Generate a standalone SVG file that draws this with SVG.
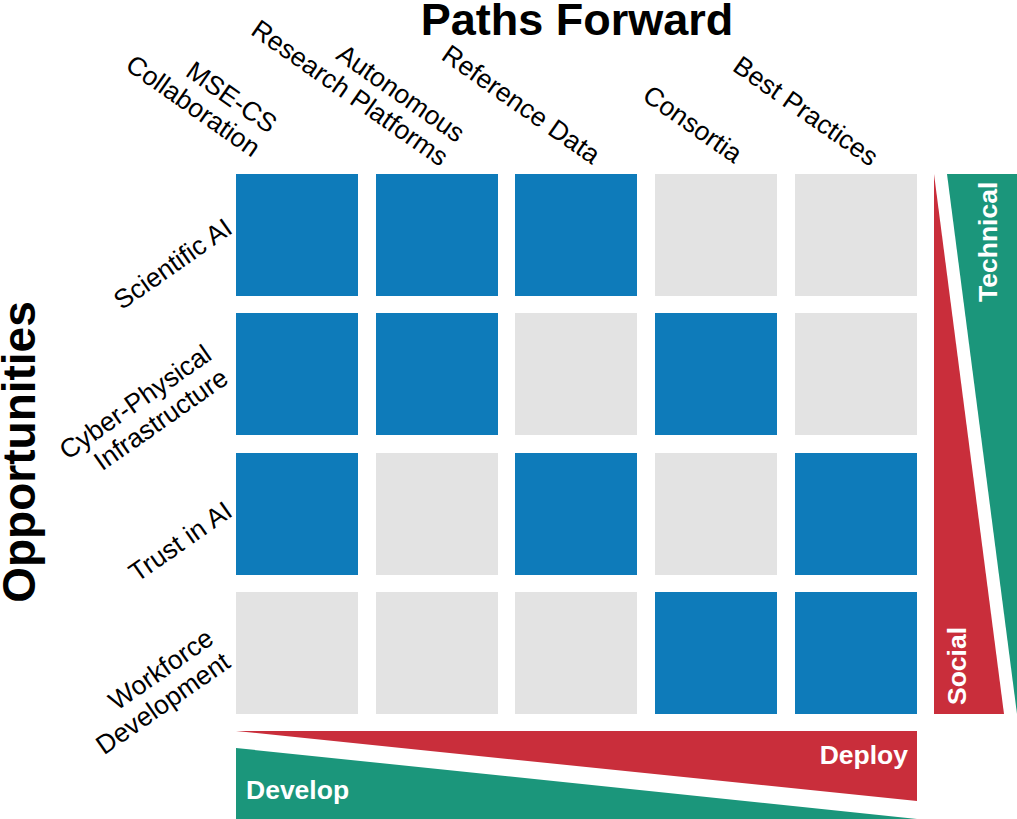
<svg xmlns="http://www.w3.org/2000/svg" width="1017" height="819" viewBox="0 0 1017 819">
<style>
.b{fill:#0e7bba}.g{fill:#e3e3e3}
.l{font-family:"Liberation Sans",Arial,sans-serif;font-size:26.5px;fill:#000;text-anchor:end}
.w{font-family:"Liberation Sans",Arial,sans-serif;font-size:26.5px;font-weight:bold;fill:#fff}
.t{font-family:"Liberation Sans",Arial,sans-serif;font-weight:bold;fill:#000;text-anchor:middle}
</style>
<rect width="1017" height="819" fill="#fff"/>
<text class="t" x="577" y="35" font-size="45">Paths Forward</text>
<text class="t" transform="translate(35,452) rotate(-90)" font-size="46">Opportunities</text>
<g id="cols">
<text class="l" transform="translate(252,158) rotate(35)"><tspan x="0" y="-29">MSE-CS</tspan><tspan x="0" y="0">Collaboration</tspan></text>
<text class="l" transform="translate(440,167) rotate(35)"><tspan x="0" y="-29">Autonomous</tspan><tspan x="0" y="0">Research Platforms</tspan></text>
<text class="l" transform="translate(592,165) rotate(35)">Reference Data</text>
<text class="l" transform="translate(734,164) rotate(35)">Consortia</text>
<text class="l" transform="translate(870,167) rotate(35)">Best Practices</text>
</g>
<g id="rows">
<text class="l" transform="translate(234,232) rotate(-35)">Scientific AI</text>
<text class="l" transform="translate(230,382) rotate(-35)"><tspan x="0" y="-29">Cyber-Physical</tspan><tspan x="0" y="0">Infrastructure</tspan></text>
<text class="l" transform="translate(234,515) rotate(-35)">Trust in AI</text>
<text class="l" transform="translate(232,666) rotate(-35)"><tspan x="0" y="-29">Workforce</tspan><tspan x="0" y="0">Development</tspan></text>
</g>
<g id="grid">
<rect class="b" x="236" y="174" width="122" height="122"/><rect class="b" x="376" y="174" width="122" height="122"/><rect class="b" x="515" y="174" width="122" height="122"/><rect class="g" x="655" y="174" width="122" height="122"/><rect class="g" x="795" y="174" width="122" height="122"/>
<rect class="b" x="236" y="313" width="122" height="122"/><rect class="b" x="376" y="313" width="122" height="122"/><rect class="g" x="515" y="313" width="122" height="122"/><rect class="b" x="655" y="313" width="122" height="122"/><rect class="g" x="795" y="313" width="122" height="122"/>
<rect class="b" x="236" y="453" width="122" height="122"/><rect class="g" x="376" y="453" width="122" height="122"/><rect class="b" x="515" y="453" width="122" height="122"/><rect class="g" x="655" y="453" width="122" height="122"/><rect class="b" x="795" y="453" width="122" height="122"/>
<rect class="g" x="236" y="592" width="122" height="122"/><rect class="g" x="376" y="592" width="122" height="122"/><rect class="g" x="515" y="592" width="122" height="122"/><rect class="b" x="655" y="592" width="122" height="122"/><rect class="b" x="795" y="592" width="122" height="122"/>
</g>
<g id="social"><polygon points="934,174 1004,714 934,714" fill="#c92e3b"/><text class="w" transform="translate(966,705) rotate(-90)">Social</text></g>
<g id="technical"><polygon points="947,174 1017,174 1017,714" fill="#1b967b"/><text class="w" transform="translate(997,302) rotate(-90)">Technical</text></g>
<g id="deploy"><polygon points="236,731 917,731 917,801" fill="#c92e3b"/><text class="w" x="908" y="764" text-anchor="end">Deploy</text></g>
<g id="develop"><polygon points="236,748 917,819 236,819" fill="#1b967b"/><text class="w" x="246" y="799">Develop</text></g>
</svg>
